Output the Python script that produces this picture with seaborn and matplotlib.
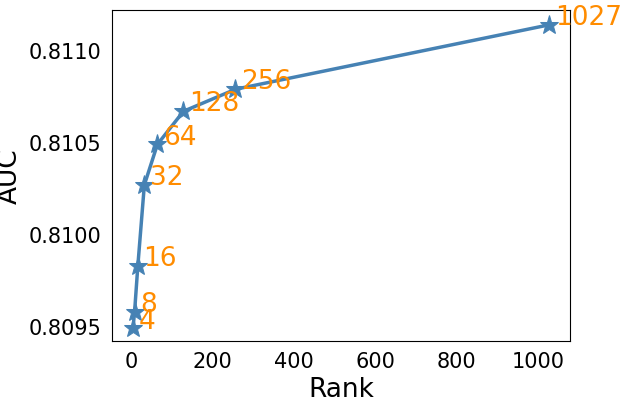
import matplotlib
matplotlib.use('Agg')
import matplotlib.pyplot as plt
import seaborn as sns
import pandas as pd

ranks = [4, 8, 16, 32, 64, 128, 256, 1027]
auc = [0.80949, 0.80958, 0.80983, 0.81027, 0.81049, 0.81067, 0.81079, 0.81114]

df = pd.DataFrame({'Rank': ranks, 'AUC': auc})

sns.set_style('white')
fig, ax = plt.subplots(figsize=(6.23, 4.04), dpi=100)
sns.lineplot(data=df, x='Rank', y='AUC', ax=ax, color='steelblue', linewidth=2.5,
             marker='*', markersize=14, markeredgecolor='steelblue')

for r, a in zip(ranks, auc):
    ax.annotate(str(r), (r, a), xytext=(4, 5), textcoords='offset points',
                color='darkorange', fontsize=19, va='center', ha='left')

ax.set_xlabel('Rank', fontsize=19, color='black')
ax.set_ylabel('AUC', fontsize=19, color='black')
ax.tick_params(labelsize=15, labelcolor='black', length=4, color='black')
ax.set_xticks([0, 200, 400, 600, 800, 1000])
ax.set_yticks([0.8095, 0.8100, 0.8105, 0.8110])
ax.set_ylim(0.80942, 0.81122)
for s in ax.spines.values():
    s.set_color('black')
    s.set_linewidth(0.8)
fig.subplots_adjust(left=0.18, right=0.915, top=0.975, bottom=0.155)
fig.savefig('out.png', dpi=100)
